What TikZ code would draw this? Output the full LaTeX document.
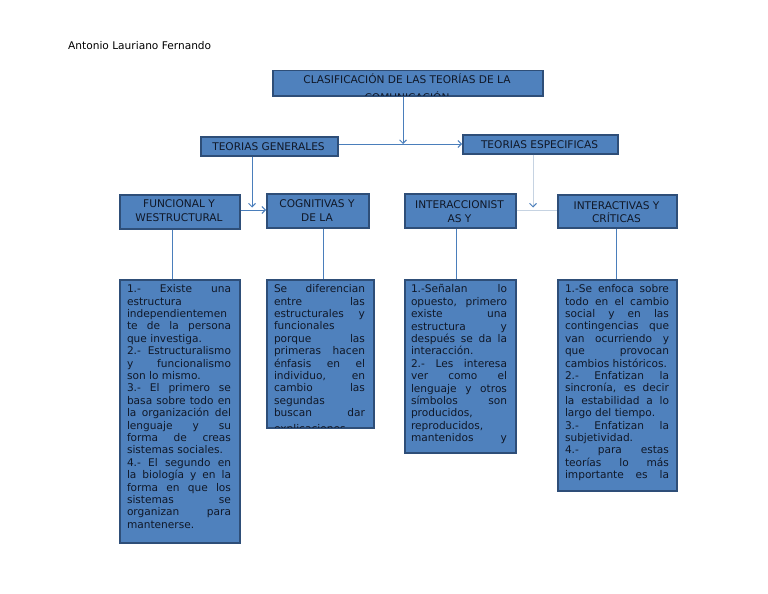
\documentclass[tikz,border=0pt]{standalone}
\usepackage{fontspec}
\setmainfont{DejaVu Sans}
\usetikzlibrary{arrows.meta}
\definecolor{boxblue}{HTML}{4F81BD}
\definecolor{boxedge}{HTML}{2E4E78}
\definecolor{linecol}{HTML}{4A7EBB}
\definecolor{lightcol}{HTML}{C6D3E2}
\definecolor{txtcol}{HTML}{101828}
\newlength\tw
\newcommand\jusl[1]{\makebox[\tw][s]{#1}}
\newcommand\lefl[1]{\makebox[\tw][l]{#1}}
\begin{document}
\begin{tikzpicture}[x=1pt,y=-1pt,
  box/.style={draw=boxedge, fill=boxblue, line width=1.5pt, inner sep=0pt, anchor=north west},
  hdr/.style={inner sep=0pt, align=center, anchor=north, text=txtcol, font=\fontsize{10.6}{14.4}\selectfont},
  body/.style={inner sep=0pt, align=left, anchor=north, text=txtcol, font=\fontsize{10.6}{12.4}\selectfont},
  conn/.style={draw=linecol, line width=0.9pt},
  lconn/.style={draw=lightcol, line width=0.9pt},
  arr/.style={-{Straight Barb[length=3.5pt,width=7pt,color=linecol]}}]
\useasboundingbox[fill=white] (0,0) rectangle (768,594);

\node[anchor=base west, inner sep=0pt, font=\fontsize{10.6}{12.4}\selectfont] (author) at (68,50) {Antonio Lauriano Fernando};

% boxes
\node[box, minimum width=270pt, minimum height=25pt] (t) at (272,70) {};
\node[box, minimum width=137pt, minimum height=19pt] (gen) at (200,136) {};
\node[box, minimum width=155pt, minimum height=19pt] (esp) at (462,134) {};
\node[box, minimum width=120pt, minimum height=34pt] (fun) at (119,194) {};
\node[box, minimum width=102pt, minimum height=34pt] (cog) at (266,193) {};
\node[box, minimum width=111pt, minimum height=34pt] (inta) at (404,193) {};
\node[box, minimum width=119pt, minimum height=33pt] (intv) at (557,194) {};
\node[box, minimum width=120pt, minimum height=263pt] (b1) at (119,279) {};
\node[box, minimum width=107pt, minimum height=148pt] (b2) at (266,279) {};
\node[box, minimum width=111pt, minimum height=173pt] (b3) at (404,279) {};
\node[box, minimum width=119pt, minimum height=211pt] (b4) at (557,279) {};

% header texts
\begin{scope}
\clip ([xshift=0.75pt,yshift=-0.75pt]t.north west) rectangle ([xshift=-0.75pt,yshift=0.75pt]t.south east);
\node[anchor=base, inner sep=0pt, text=txtcol, font=\fontsize{10.6}{12.4}\selectfont] (ttxt) at (407,84) {CLASIFICACIÓN DE LAS TEORÍAS DE LA};
\node[anchor=base, inner sep=0pt, text=txtcol, font=\fontsize{10.6}{12.4}\selectfont] (ttxt2) at (407,101.5) {COMUNICACIÓN};
\end{scope}
\node[anchor=base, inner sep=0pt, text=txtcol, font=\fontsize{10.6}{12.4}\selectfont] (gentxt) at (268.5,150.5) {TEORIAS GENERALES};
\node[anchor=base, inner sep=0pt, text=txtcol, font=\fontsize{10.6}{12.4}\selectfont] (esptxt) at (539.5,148.6) {TEORIAS ESPECIFICAS};
\node[hdr] (funtxt) at (179,199.5) {FUNCIONAL Y\\WESTRUCTURAL};
\node[hdr] (cogtxt) at (317,199.5) {COGNITIVAS Y\\DE LA};
\node[hdr] (intatxt) at (459.5,200.2) {INTERACCIONIST\\AS Y};
\node[hdr, font=\fontsize{10.6}{13.4}\selectfont] (intvtxt) at (616.5,201.5) {INTERACTIVAS Y\\CRÍTICAS};

% body texts
\setlength\tw{104pt}
\node[body] (b1txt) at (179,284.5) {%
\jusl{1.- Existe una}\\
\jusl{estructura}\\
\jusl{independientemen}\\
\jusl{te de la persona}\\
\lefl{que investiga.}\\
\jusl{2.- Estructuralismo}\\
\jusl{y funcionalismo}\\
\lefl{son lo mismo.}\\
\jusl{3.- El primero se}\\
\jusl{basa sobre todo en}\\
\jusl{la organización del}\\
\jusl{lenguaje y su}\\
\jusl{forma de creas}\\
\lefl{sistemas sociales.}\\
\jusl{4.- El segundo en}\\
\jusl{la biología y en la}\\
\jusl{forma en que los}\\
\jusl{sistemas se}\\
\jusl{organizan para}\\
\lefl{mantenerse.}};

\setlength\tw{91pt}
\begin{scope}
\clip ([yshift=-0.75pt]b2.north west) rectangle ([yshift=0.75pt]b2.south east);
\node[body] (b2txt) at (319.5,284.5) {%
\jusl{Se diferencian}\\
\jusl{entre las}\\
\jusl{estructurales y}\\
\lefl{funcionales}\\
\jusl{porque las}\\
\jusl{primeras hacen}\\
\jusl{énfasis en el}\\
\jusl{individuo, en}\\
\jusl{cambio las}\\
\lefl{segundas}\\
\jusl{buscan dar}\\[3.5pt]
\lefl{explicaciones}};
\end{scope}

\setlength\tw{96pt}
\node[body] (b3txt) at (459,284.5) {%
\jusl{1.-Señalan lo}\\
\jusl{opuesto, primero}\\
\jusl{existe una}\\
\jusl{estructura y}\\
\jusl{después se da la}\\
\lefl{interacción.}\\
\jusl{2.- Les interesa}\\
\jusl{ver como el}\\
\jusl{lenguaje y otros}\\
\jusl{símbolos son}\\
\lefl{producidos,}\\
\lefl{reproducidos,}\\
\jusl{mantenidos y}};

\setlength\tw{104pt}
\node[body] (b4txt) at (617,284.5) {%
\jusl{1.-Se enfoca sobre}\\
\jusl{todo en el cambio}\\
\jusl{social y en las}\\
\jusl{contingencias que}\\
\jusl{van ocurriendo y}\\
\jusl{que provocan}\\
\lefl{cambios históricos.}\\
\jusl{2.- Enfatizan la}\\
\jusl{sincronía, es decir}\\
\jusl{la estabilidad a lo}\\
\lefl{largo del tiempo.}\\
\jusl{3.- Enfatizan la}\\
\lefl{subjetividad.}\\
\jusl{4.- para estas}\\
\jusl{teorías lo más}\\
\jusl{importante es la}};

% connectors
\coordinate (j1) at (403,144);
\coordinate (j2) at (252,207.5);
\coordinate (j3) at (0,210);
\coordinate (j4) at (533,207.5);
\coordinate (j5) at (0,210);
\coordinate (v1) at (172,0);
\coordinate (v2) at (323,0);
\coordinate (v3) at (456,0);
\coordinate (v4) at (616,0);

\draw[conn, arr] (j1 |- t.south) -- (j1);
\draw[conn, arr] (gen.east |- j1) -- (esp.west |- j1);
\draw[conn, arr] (j2 |- gen.south) -- (j2);
\draw[conn, arr] (fun.east |- j3) -- (cog.west |- j3);
\draw[lconn, arr] (j4 |- esp.south) -- (j4);
\draw[lconn] (inta.east |- j5) -- (intv.west |- j5);

\draw[conn] (v1 |- fun.south) -- (v1 |- b1.north);
\draw[conn] (v2 |- cog.south) -- (v2 |- b2.north);
\draw[conn] (v3 |- inta.south) -- (v3 |- b3.north);
\draw[conn] (v4 |- intv.south) -- (v4 |- b4.north);
\end{tikzpicture}
\end{document}
